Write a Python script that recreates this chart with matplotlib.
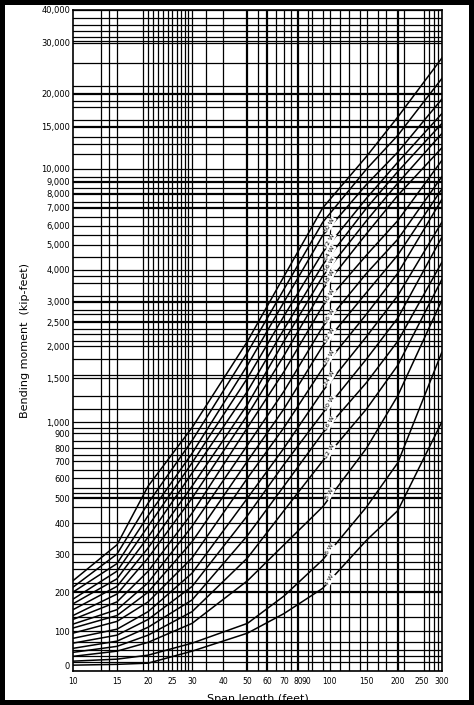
import numpy as np
import matplotlib
matplotlib.use('Agg')
import matplotlib.pyplot as plt

# y axis of the original is a hand-drawn semi-log scale: tick value -> height above baseline (px)
ytick_vals = [0, 100, 200, 300, 400, 500, 600, 700, 800, 900, 1000, 1500, 2000, 2500, 3000,
              4000, 5000, 6000, 7000, 8000, 9000, 10000, 15000, 20000, 30000, 40000]
ytick_h = [0, 40, 79, 117, 148, 173, 193, 210, 223, 238, 249, 293, 325, 349, 369,
           401, 426, 445, 463, 477, 489, 502, 544, 577, 628, 661]

xtick_vals = [10, 15, 20, 25, 30, 40, 50, 60, 70, 80, 90, 100, 150, 200, 250, 300]

# extra grid lines (values)
xgrid = [13, 14, 15, 19, 20, 21, 22, 23, 24, 25, 26, 27, 28, 29, 30, 34, 40, 50, 55, 60, 65,
         70, 75, 80, 87, 91, 100, 107, 117, 128, 141, 150, 166, 179, 200, 211, 254, 267, 279, 290, 300]
xgrid_bold = [50, 60, 80, 200]
ygrid = [22, 37, 52, 72, 135, 170, 225, 260, 280, 340, 355, 465, 525, 550, 650, 750, 850, 950,
         1150, 1300, 1550, 1800, 2100, 2250, 2350, 2700, 2800, 3200, 3600, 3800, 4500, 5500, 6500,
         7400, 8500, 9400, 11800, 13000, 13800, 16000, 18000, 19000, 21500, 26000, 30500,
         31800, 33500, 35500, 37500]
ygrid_bold = [200, 500, 2500, 3000, 7000, 8000, 9000, 15000, 20000]

span = [10, 15, 20, 30, 50, 70, 100, 150, 200, 300]
moments = [
    [15, 17, 20, 50, 95, 145, 210, 345, 450, 1000],
    [25, 30, 40, 70, 120, 190, 285, 465, 690, 1900],
    [37, 50, 72, 120, 230, 330, 465, 800, 1300, 3050],
    [47, 62, 90, 150, 290, 450, 700, 1150, 1700, 3700],
    [57, 75, 110, 180, 360, 560, 900, 1450, 2100, 4300],
    [70, 90, 130, 215, 430, 680, 1100, 1800, 2600, 5400],
    [82, 105, 150, 250, 500, 800, 1350, 2200, 3200, 6200],
    [95, 125, 175, 290, 600, 950, 1650, 2700, 3900, 7600],
    [108, 140, 200, 340, 700, 1150, 2000, 3300, 4600, 8400],
    [118, 155, 225, 390, 820, 1350, 2400, 3900, 5300, 9400],
    [130, 175, 255, 440, 950, 1600, 2900, 4600, 6300, 11000],
    [140, 195, 290, 500, 1080, 1850, 3400, 5600, 7900, 12500],
    [155, 215, 320, 560, 1200, 2100, 3800, 6300, 8900, 14200],
    [170, 235, 355, 630, 1350, 2350, 4200, 7000, 9800, 15500],
    [182, 255, 390, 690, 1500, 2650, 4700, 7700, 10800, 17000],
    [200, 275, 430, 760, 1700, 3000, 5500, 8800, 12000, 19200],
    [213, 300, 480, 850, 1900, 3400, 6200, 10000, 14000, 23000],
    [230, 330, 560, 950, 2100, 3800, 7000, 11500, 16500, 27000],
]
labels = ['4 W', '6 W', '8 W', '12 W', '16 W', '20 W', '24 W', '28 W', '32 W', '36 W',
          '40 W', '48 W', '56 W', '64 W', '72 W', '80 W']

def fwd(v):
    return np.interp(v, ytick_vals, ytick_h)

def inv(h):
    return np.interp(h, ytick_h, ytick_vals)

fig = plt.figure(figsize=(4.74, 7.05), dpi=100)
fig.patch.set_edgecolor('black')
fig.patch.set_linewidth(6)
ax = fig.add_axes([0.154, 0.048, 0.778, 0.938])
ax.set_xscale('log')
ax.set_yscale('function', functions=(fwd, inv))
ax.set_xlim(10, 300)
ax.set_ylim(0, 40000)

for v in xgrid:
    ax.axvline(v, color='black', lw=1.6 if v in xgrid_bold else 0.9, zorder=1)
for v in ytick_vals + ygrid:
    ax.axhline(v, color='black', lw=1.6 if v in ygrid_bold else 0.9, zorder=1)

for i, m in enumerate(moments):
    ax.plot(span, m, color='black', lw=1.1, zorder=2)

# curve labels near 107 ft
for i, lab in enumerate(labels):
    yv = np.interp(np.log(107), np.log(span), moments[i])
    ax.text(107, yv, lab, fontsize=4.5, rotation=60, ha='center', va='center',
            zorder=3, bbox=dict(facecolor='white', edgecolor='none', pad=0.3))

ax.set_xticks(xtick_vals)
ax.set_xticklabels([str(v) for v in xtick_vals])
ax.xaxis.set_minor_locator(matplotlib.ticker.NullLocator())
ax.set_yticks(ytick_vals)
ax.set_yticklabels(['{:,}'.format(v) for v in ytick_vals])
ax.tick_params(labelsize=6, length=0, pad=2)
ax.tick_params(axis='x', labelsize=5.5, pad=4)
for t in ax.get_xticklabels():
    if t.get_text() == '90':
        t.set_ha('right')
    elif t.get_text() == '100':
        t.set_ha('left')
ax.get_yticklabels()[0].set_va('bottom')
for s in ax.spines.values():
    s.set_linewidth(1.2)

ax.set_xlabel('Span length (feet)', fontsize=8, labelpad=6)
ax.set_ylabel('Bending moment  (kip-feet)', fontsize=8, labelpad=8)

fig.savefig('out.png', dpi=100)
